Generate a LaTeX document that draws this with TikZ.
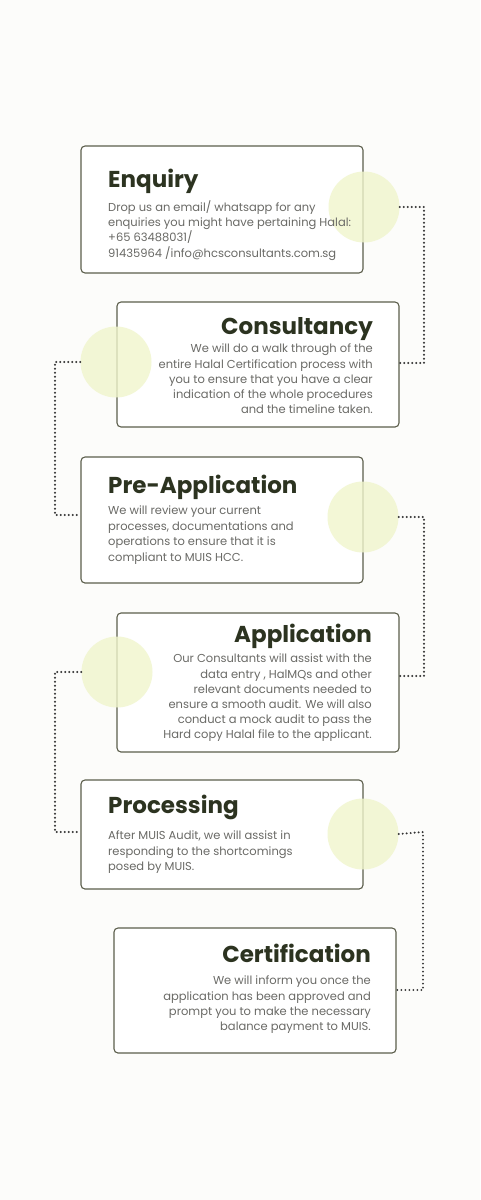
\documentclass[tikz,border=0pt]{standalone}
\usepackage{fontspec}
\setmainfont{Poppins}
\begin{document}
\begin{tikzpicture}[x=1pt,y=-1pt,
  bg/.style={fill=pagebg,draw=none},
  card/.style={draw=cardline,line width=1.1pt,rounded corners=4pt,fill=white,inner sep=0pt,minimum width=282pt},
  blob/.style={circle,fill=blobfill,opacity=0.8,minimum size=71pt,inner sep=0pt,draw=none},
  ttl/.style={font=\fontsize{23}{27}\selectfont\bfseries,text=ttlcol,inner sep=0pt},
  bodyl/.style={font=\fontsize{11.5}{15.4}\selectfont,text=bodycol,inner sep=0pt,align=left,anchor=north west},
  bodyr/.style={font=\fontsize{11.5}{15.2}\selectfont,text=bodycol,inner sep=0pt,align=right,anchor=north east},
  dotline/.style={draw=dotcol,line width=2.2pt,line cap=round,dash pattern=on 0pt off 4pt}
]
\definecolor{pagebg}{HTML}{FCFCFA}
\definecolor{cardline}{HTML}{5C5E4C}
\definecolor{blobfill}{HTML}{F0F5CC}
\definecolor{ttlcol}{HTML}{2C3320}
\definecolor{bodycol}{HTML}{6A6A66}
\definecolor{dotcol}{HTML}{333333}
\fill[bg] (0,0) rectangle (480,1200);
\useasboundingbox (0,0) rectangle (480,1200);

% cards
\node[card,minimum height=127pt] (b1) at (222,209.5) {};
\node[card,minimum height=125pt] (b2) at (258,364.5) {};
\node[card,minimum height=126pt] (b3) at (222,520) {};
\node[card,minimum height=139pt] (b4) at (258,682.5) {};
\node[card,minimum height=109pt] (b5) at (222,834.5) {};
\node[card,minimum height=125pt] (b6) at (255,990.5) {};

% blobs
\node[blob] (c1) at (364,207) {};
\node[blob] (c2) at (116,362) {};
\node[blob] (c3) at (363,517) {};
\node[blob] (c4) at (117,672) {};
\node[blob] (c5) at (363,834) {};

% connectors
\draw[dotline] (c1.east) -- (424,207) -- (424,363) -- (b2.east |- 0,363);
\draw[dotline] (c2.west) -- (55,362) -- (55,515) -- (b3.west |- 0,515);
\draw[dotline] (c3.east) -- (424,517) -- (424,676) -- (b4.east |- 0,676);
\draw[dotline] (c4.west) -- (55,672) -- (55,832) -- (b5.west |- 0,832);
\draw[dotline] (c5.east) -- (423,832) -- (423,990) -- (b6.east |- 0,990);

% titles
\node[ttl,anchor=base west] (t1) at (108,187) {Enquiry};
\node[ttl,anchor=base east] (t2) at (373,334) {Consultancy};
\node[ttl,anchor=base west] (t3) at (108,493) {Pre-Application};
\node[ttl,anchor=base east] (t4) at (372,642) {Application};
\node[ttl,anchor=base west] (t5) at (108,813) {Processing};
\node[ttl,anchor=base east] (t6) at (371,962) {Certification};

% bodies
\node[bodyl] (d1) at (108,200) {Drop us an email/ whatsapp for any\\enquiries you might have pertaining Halal:\\+65 63488031/\\91435964 /info@hcsconsultants.com.sg};
\node[bodyr] (d2) at (373,344) {We will do a walk through of the\\entire Halal Certification process with\\you to ensure that you have a clear\\indication of the whole procedures\\and the timeline taken.};
\node[bodyl] (d3) at (108,506) {We will review your current\\processes, documentations and\\operations to ensure that it is\\compliant to MUIS HCC.};
\node[bodyr] (d4) at (372,654) {Our Consultants will assist with the\\data entry , HalMQs and other\\relevant documents needed to\\ensure a smooth audit. We will also\\conduct a mock audit to pass the\\Hard copy Halal file to the applicant.};
\node[bodyl] (d5) at (108,831) {After MUIS Audit, we will assist in\\responding to the shortcomings\\posed by MUIS.};
\node[bodyr] (d6) at (371,976) {We will inform you once the\\application has been approved and\\prompt you to make the necessary\\balance payment to MUIS.};
\end{tikzpicture}
\end{document}
